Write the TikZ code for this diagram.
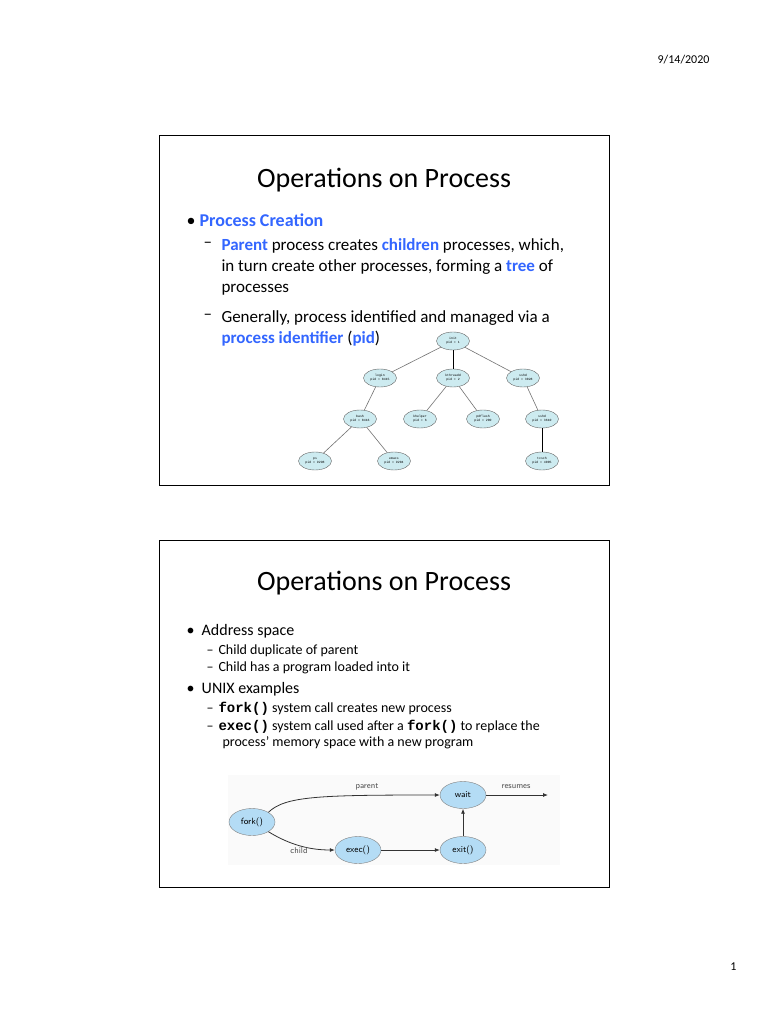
\documentclass[tikz,border=0pt]{standalone}
\usepackage{fontspec}
\setmainfont{Carlito}
\newfontfamily\cour{Liberation Mono}
\usetikzlibrary{shapes.geometric,arrows.meta}
\definecolor{hb}{RGB}{51,102,255}
\definecolor{nfill}{RGB}{205,235,240}
\definecolor{ffill}{RGB}{180,220,245}
\tikzset{
 tn/.style={ellipse,draw=black!60,fill=nfill,minimum width=33pt,minimum height=18pt,inner sep=0pt,font=\fontsize{3.2}{3.8}\selectfont\cour,align=center},
 te/.style={draw=black!55,line width=0.6pt},
 fn/.style={ellipse,draw=black!50,fill=ffill,minimum width=46pt,minimum height=27pt,inner sep=0pt,font=\fontsize{9}{10}\selectfont\sffamily},
 fa/.style={draw=black!80,line width=0.8pt,-{Latex[length=5pt,width=4pt]}},
 lab/.style={font=\fontsize{8.5}{10}\selectfont\sffamily,text=black!70},
 slide/.style={draw=black,line width=0.8pt}
}
\begin{document}
\begin{tikzpicture}[x=1pt,y=-1pt]
\useasboundingbox (0,0) rectangle (768,1024);
\fill[white] (0,0) rectangle (768,1024);
\node[anchor=east,font=\fontsize{12}{14}\selectfont] (date) at (713,60) {9/14/2020};
\node[anchor=east,font=\fontsize{12}{14}\selectfont] (pg) at (740,967) {1};
% slide 1
\draw[slide] (159,135) rectangle (609,485);
\node[font=\fontsize{28}{32}\selectfont] (t1) at (384,180) {Operations on Process};
\node[anchor=west,font=\fontsize{18}{22}\selectfont] (b1) at (183,220) {\textbullet\ \textcolor{hb}{\textbf{Process Creation}}};
\node[anchor=west,font=\fontsize{17}{21}\selectfont] (d0) at (200,245) {--};
\node[anchor=north west,font=\fontsize{17}{21}\selectfont,align=left] (d1) at (218,235) {\textcolor{hb}{\textbf{Parent}} process creates \textcolor{hb}{\textbf{children}} processes, which,\\ in turn create other processes, forming a \textcolor{hb}{\textbf{tree}} of\\ processes};
\node[anchor=west,font=\fontsize{17}{21}\selectfont] (d3) at (200,317) {--};
\node[anchor=north west,font=\fontsize{17}{21}\selectfont,align=left] (d2) at (218,307) {Generally, process identified and managed via a\\ \textcolor{hb}{\textbf{process identifier}} (\textcolor{hb}{\textbf{pid}})};
\node[tn] (init) at (453,341) {init\\pid = 1};
\node[tn] (login) at (380,378) {login\\pid = 8415};
\node[tn] (kth) at (453,378) {kthreadd\\pid = 2};
\node[tn] (sshd) at (523,378) {sshd\\pid = 3028};
\node[tn] (bash) at (360,419) {bash\\pid = 8416};
\node[tn] (khel) at (420,419) {khelper\\pid = 6};
\node[tn] (pdf) at (483,419) {pdflush\\pid = 200};
\node[tn] (sshd2) at (542,419) {sshd\\pid = 3610};
\node[tn] (ps) at (315,461) {ps\\pid = 9298};
\node[tn] (emacs) at (394,461) {emacs\\pid = 9204};
\node[tn] (tcsch) at (542,461) {tcsch\\pid = 4005};
\draw[te] (init)--(login); \draw[te,black,line width=0.9pt] (init)--(kth); \draw[te] (init)--(sshd);
\draw[te] (login)--(bash); \draw[te] (kth)--(khel); \draw[te] (kth)--(pdf); \draw[te] (sshd)--(sshd2);
\draw[te] (bash)--(ps); \draw[te] (bash)--(emacs); \draw[te,black,line width=0.9pt] (sshd2)--(tcsch);
% slide 2
\draw[slide] (159,540) rectangle (609,887);
\node[font=\fontsize{28}{32}\selectfont] (t2) at (384,583) {Operations on Process};
\node[anchor=west,font=\fontsize{16}{19}\selectfont] (a1) at (183,631) {\textbullet\ \ Address space};
\node[anchor=west,font=\fontsize{14}{17}\selectfont] (a2) at (203,651) {--\hspace{5pt}Child duplicate of parent};
\node[anchor=west,font=\fontsize{14}{17}\selectfont] (a3) at (203,668) {--\hspace{5pt}Child has a program loaded into it};
\node[anchor=west,font=\fontsize{16}{19}\selectfont] (u1) at (183,689) {\textbullet\ \ UNIX examples};
\node[anchor=west,font=\fontsize{14}{17}\selectfont] (u2) at (203,709) {--\hspace{5pt}{\cour\bfseries fork()} system call creates new process};
\node[anchor=west,font=\fontsize{14}{17}\selectfont] (u3) at (203,727) {--\hspace{5pt}{\cour\bfseries exec()} system call used after a {\cour\bfseries fork()} to replace the};
\node[anchor=west,font=\fontsize{14}{17}\selectfont] (u4) at (219,743) {process' memory space with a new program};
\fill[black!2] (228,775) rectangle (560,865);
\node[fn] (fork) at (252,822) {fork()};
\node[fn] (wait) at (463,795) {wait};
\node[fn] (exec) at (358,850) {exec()};
\node[fn] (exit) at (463,850) {exit()};
\coordinate (res) at (548,795);
\draw[fa] (fork.north east) .. controls (285,796) and (320,795) .. (wait.west);
\draw[fa] (fork.south east) .. controls (290,845) and (310,850) .. (exec.west);
\draw[fa] (exec)--(exit);
\draw[fa] (exit)--(wait);
\draw[fa] (wait)--(res);
\node[lab] (lp) at (367,787) {parent};
\node[lab] (lr) at (516,787) {resumes};
\node[lab] (lc) at (299,851) {child};
\end{tikzpicture}
\end{document}
